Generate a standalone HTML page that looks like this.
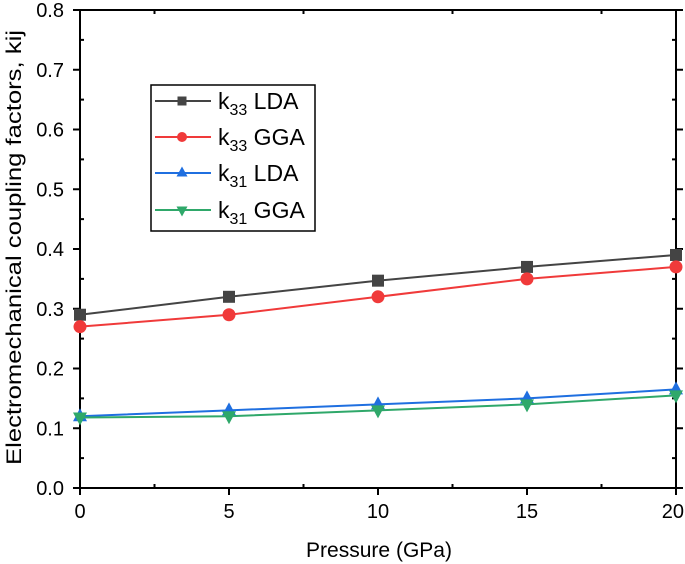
<!DOCTYPE html>
<html><head><meta charset="utf-8"><style>
html,body{margin:0;padding:0;background:#fff;}
svg{display:block;font-family:"Liberation Sans",Arial,sans-serif;}
</style></head><body>
<svg id="chart" width="685" height="564" viewBox="0 0 685 564">
<g id="axes"></g><g id="series"></g><g id="legend"></g>
</svg>
<script>
const categories=[0,5,10,15,20];
const k33LDA=[0.29,0.32,0.347,0.37,0.39];
const k33GGA=[0.27,0.29,0.32,0.35,0.37];
const k31LDA=[0.12,0.13,0.14,0.15,0.165];
const k31GGA=[0.118,0.12,0.13,0.14,0.155];
const xTicks=[0,5,10,15,20];
const yTicks=["0.0","0.1","0.2","0.3","0.4","0.5","0.6","0.7","0.8"];
const seriesNames=["LDA","GGA","LDA","GGA"];
const seriesSubs=["33","33","31","31"];

const NS="http://www.w3.org/2000/svg";
const X0=80,X1=676,Y0=488,Y1=10;
const xs=v=>X0+(v-0)/(20-0)*(X1-X0);
const ys=v=>Y0-(v-0)/(0.8-0)*(Y0-Y1);
function mk(t,a,p){const e=document.createElementNS(NS,t);for(const k in a)e.setAttribute(k,a[k]);p.appendChild(e);return e;}
const axes=document.getElementById('axes'),ser=document.getElementById('series'),leg=document.getElementById('legend');

const frame=mk('rect',{x:X0,y:Y1,width:X1-X0,height:Y0-Y1,fill:'none',stroke:'#000','stroke-width':2},axes);


yTicks.forEach((t,i)=>{const v=parseFloat(t),y=ys(v);
 mk('line',{x1:X0-7,x2:X0,y1:y,y2:y,stroke:'#000','stroke-width':2},axes);
 mk('line',{x1:X1,x2:X1+7,y1:y,y2:y,stroke:'#000','stroke-width':2},axes);
 if(i<yTicks.length-1){const ym=ys(v+0.05);
  mk('line',{x1:X0,x2:X0+4,y1:ym,y2:ym,stroke:'#000','stroke-width':2},axes);
  mk('line',{x1:X1-4,x2:X1,y1:ym,y2:ym,stroke:'#000','stroke-width':2},axes);}
 const tx=mk('text',{x:X0-16,y:y+7,'text-anchor':'end','font-size':20,fill:'#000'},axes);tx.textContent=t;
 
 
});
xTicks.forEach((t,i)=>{const x=xs(t);
 mk('line',{x1:x,x2:x,y1:Y0,y2:Y0+7,stroke:'#000','stroke-width':2},axes);
 if(i<xTicks.length-1){const xm=xs(t+2.5);
  mk('line',{x1:xm,x2:xm,y1:Y0-4,y2:Y0,stroke:'#000','stroke-width':2},axes);
  mk('line',{x1:xm,x2:xm,y1:Y1,y2:Y1+4,stroke:'#000','stroke-width':2},axes);}
 const last=i===xTicks.length-1;
 const tx=mk('text',{x:last?684:x,y:Y0+30,'text-anchor':last?'end':'middle','font-size':20,fill:'#000'},axes);tx.textContent=t;
 
 
});
const xt=mk('text',{x:306,y:557,'font-size':21,fill:'#000',textLength:146,lengthAdjust:'spacingAndGlyphs'},axes);xt.textContent='Pressure (GPa)';


const yt=mk('text',{x:0,y:0,'font-size':21,fill:'#000',textLength:435,lengthAdjust:'spacingAndGlyphs',transform:'translate(21,465) rotate(-90)'},axes);yt.textContent='Electromechanical coupling factors, kij';



const colors=['#444444','#f03a3a','#1f6fe0','#2fa86a'];
const shapes=['square','circle','up','down'];
function marker(s,x,y,c,p,r){
 if(s==='square')return mk('rect',{x:x-r,y:y-r,width:2*r,height:2*r,fill:c},p);
 if(s==='circle')return mk('circle',{cx:x,cy:y,r:r+0.5,fill:c},p);
 if(s==='up')return mk('polygon',{points:`${x},${y-r-2} ${x-r-1},${y+r-1} ${x+r+1},${y+r-1}`,fill:c},p);
 return mk('polygon',{points:`${x},${y+r+2} ${x-r-1},${y-r+1} ${x+r+1},${y-r+1}`,fill:c},p);
}
[k33LDA,k33GGA,k31LDA,k31GGA].forEach((vals,si)=>{
 const pts=vals.map((v,i)=>xs(categories[i])+','+ys(v)).join(' ');
 const pl=mk('polyline',{points:pts,fill:'none',stroke:colors[si],'stroke-width':2},ser);
 
 
 vals.forEach((v,i)=>{const m=marker(shapes[si],xs(categories[i]),ys(v),colors[si],ser,6);
  
  });
});

const box=mk('rect',{x:151,y:85,width:164,height:146,fill:'#fff',stroke:'#000','stroke-width':1.5},leg);


const rows=[101,137,173,210];
rows.forEach((y,i)=>{
 const g=mk('g',{},leg);
 
 
 mk('line',{x1:155,x2:211,y1:y,y2:y,stroke:colors[i],'stroke-width':2},g);
 marker(shapes[i],182,y,colors[i],g,4.5);
 const t=mk('text',{x:218,y:y+8,'font-size':23,fill:'#000'},g);
 const a=mk('tspan',{},t);a.textContent='k';
 const b=mk('tspan',{dy:6,'font-size':16},t);b.textContent=seriesSubs[i];
 const c=mk('tspan',{dy:-6},t);c.textContent=' '+seriesNames[i];
});
</script>
</body></html>
